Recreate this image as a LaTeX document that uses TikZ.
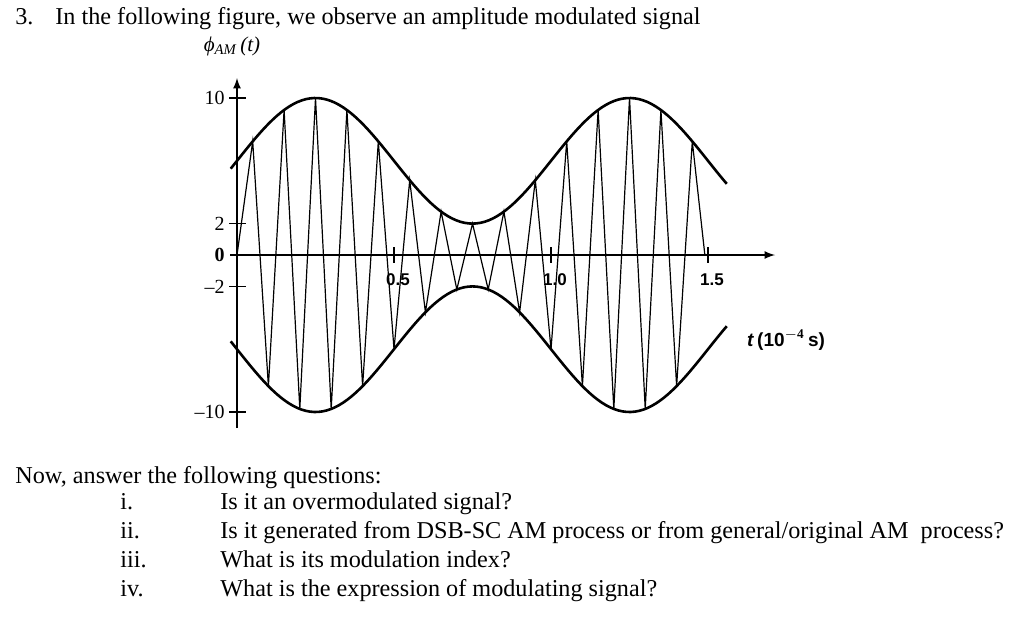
\documentclass[tikz,border=0pt]{standalone}
\usepackage{fontspec}
\setmainfont{Liberation Serif}
\setsansfont{Liberation Sans}
\begin{document}
\begin{tikzpicture}[x=0.5pt,y=-0.5pt,
  txt/.style={anchor=base west,inner sep=0pt,font=\fontsize{12.1}{13}\selectfont},
  lab/.style={inner sep=0pt,font=\fontsize{10}{11}\selectfont},
  blab/.style={inner sep=0pt,font=\sffamily\bfseries\fontsize{8.5}{9}\selectfont}]
\useasboundingbox (0,0) rectangle (1024,618);
% text
\node[txt] (n3) at (15,24) {3.};
\node[txt] (t1) at (55,24) {In the following figure, we observe an amplitude modulated signal};
\node[txt] (t2) at (15,483) {Now, answer the following questions:};
\node[txt] (r1) at (120,509) {i.};
\node[txt] (q1) at (220,509) {Is it an overmodulated signal?};
\node[txt] (r2) at (120,538) {ii.};
\node[txt] (q2) at (220,538) {Is it generated from DSB-SC AM process or from general/original AM\ \ process?};
\node[txt] (r3) at (120,567) {iii.};
\node[txt] (q3) at (220,567) {What is its modulation index?};
\node[txt] (r4) at (120,596) {iv.};
\node[txt] (q4) at (220,596) {What is the expression of modulating signal?};
% axes
\draw[line width=0.8pt,-latex] (237,428) -- (237,78);
\draw[line width=0.8pt,-latex] (230,255) -- (775,255);
\foreach \v/\l in {10/10,2/2,-2/{\textendash2},-10/{\textendash10}}{
  \draw[line width=0.6pt] (229,{255-15.7*\v}) -- (246,{255-15.7*\v});
  \node[lab,anchor=east] at (225,{255-15.7*\v}) {\l};
}
\node[lab,anchor=east,font=\bfseries\fontsize{10}{11}\selectfont] at (225,255) {0};
\node[inner sep=0pt,font=\itshape\fontsize{10.5}{11}\selectfont] (phi) at (232,46) {ϕ\textsubscript{AM}\,(t)};
\foreach \t/\l in {0.5/0.5,1.0/1.0,1.5/1.5}{
  \draw[line width=0.6pt] ({237+314*\t},247) -- ({237+314*\t},263);
  \node[blab] at ({237+314*\t+4},280) {\l};
}
\node[blab,font=\sffamily\bfseries\fontsize{9.5}{10}\selectfont] (tl) at (786,340) {\textit{t}\,(10$^{\mathbf{-4}}$\,s)};
% envelope
\draw[line width=1.3pt,domain=-0.02:1.56,samples=120]
  plot ({237+314*\x},{255-15.7*(6+4*cos(360*(\x-0.25)))})
  plot ({237+314*\x},{255+15.7*(6+4*cos(360*(\x-0.25)))});
% carrier zigzag
\draw[line width=0.6pt] (237,255)
  \foreach \k in {0,...,13}{
    -- ({237+314*(0.05+0.1*\k)},{255-15.7*(6+4*cos(360*(0.1*\k-0.2)))})
    -- ({237+314*(0.1+0.1*\k)},{255+15.7*(6+4*cos(360*(0.1*\k-0.15)))})
  }
  -- ({237+314*1.45},{255-15.7*(6+4*cos(360*1.2))})
  -- ({237+314*1.49},255);
\end{tikzpicture}
\end{document}
